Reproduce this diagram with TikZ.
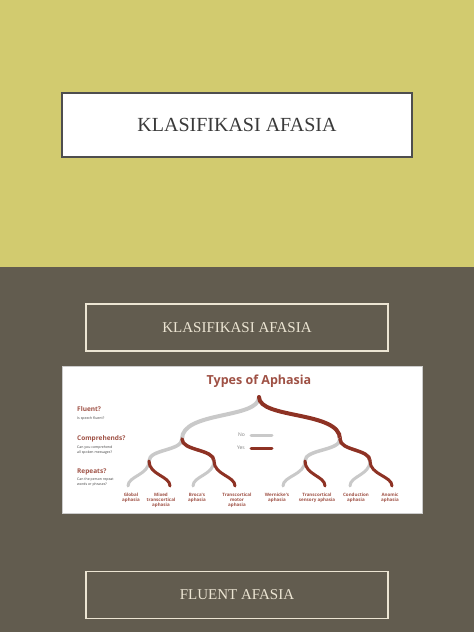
\documentclass[tikz,border=0pt]{standalone}
\usepackage{fontspec}
\setmainfont{Liberation Serif}
\newfontfamily\diagfont{Open Sans}
\usetikzlibrary{positioning}

\definecolor{zaitun}{HTML}{D2CB6F}
\definecolor{gelap}{HTML}{625C4F}
\definecolor{krem}{HTML}{ECE5D3}
\definecolor{merah}{HTML}{8E3224}
\definecolor{abu}{HTML}{C9C9C9}
\definecolor{teks}{HTML}{3A3A3A}

\begin{document}
\begin{tikzpicture}[x=1pt,y=-1pt,
    titlebox/.style={draw=teks!90,line width=2pt,fill=white,minimum width=350pt,minimum height=64pt,
        font=\fontsize{20}{22}\selectfont,text=teks},
    darkbox/.style={draw=krem,line width=1.5pt,minimum width=302pt,minimum height=47pt,
        font=\fontsize{15}{17}\selectfont,text=krem},
    tidakline/.style={draw=abu,line cap=round},
    yaline/.style={draw=merah,line cap=round},
    tanya/.style={anchor=west,text=merah!85,font=\diagfont\bfseries\fontsize{6.5}{7}\selectfont,inner sep=0pt},
    kecil/.style={anchor=west,text=teks,font=\diagfont\fontsize{3.5}{5}\selectfont,inner sep=0pt,align=left},
    jenis/.style={anchor=north,text=merah!85,font=\diagfont\bfseries\fontsize{4.5}{5}\selectfont,inner sep=0pt,align=center}]
    \useasboundingbox (0,0) rectangle (474,632);
    % backgrounds
    \fill[zaitun] (0,0) rectangle (474,267);
    \fill[gelap] (0,267) rectangle (474,632);
    \node[titlebox] (judul) at (237,125) {KLASIFIKASI AFASIA};
    \node[darkbox] (klasifikasi) at (237,327.5) {KLASIFIKASI AFASIA};
    \node[darkbox] (fluent) at (237,595) {FLUENT AFASIA};
    % the picture
    \node[fill=white,draw=gray!40,line width=.6pt,minimum width=360pt,minimum height=147pt,inner sep=0pt] (gambar) at (242,439.5) {};
    \node[text=merah!85,font=\diagfont\bfseries\fontsize{12.5}{13}\selectfont] (tipe) at (259,381) {Types of Aphasia};
    \node[tanya] (fluentq) at (77,409) {Fluent?};
    \node[kecil] (fluentk) at (77,419) {Is speech fluent?};
    \node[tanya] (pahamq) at (77,439) {Comprehends?};
    \node[kecil] (pahamk) at (77,450.5) {Can you comprehend\\all spoken messages?};
    \node[tanya] (ulangq) at (77,472) {Repeats?};
    \node[kecil] (ulangk) at (77,482.5) {Can the person repeat\\words or phrases?};
    % legend
    \node[kecil,text=gray,font=\diagfont\fontsize{5}{6}\selectfont,anchor=east] (no) at (245,435) {No};
    \node[kecil,text=gray,font=\diagfont\fontsize{5}{6}\selectfont,anchor=east] (yes) at (245,448) {Yes};
    \coordinate (no1) at (251,435);
    \coordinate (no2) at (272,435);
    \coordinate (yes1) at (251,448);
    \coordinate (yes2) at (272,448);
    \draw[tidakline,line width=3pt] (no1) -- (no2);
    \draw[yaline,line width=3pt] (yes1) -- (yes2);
    % tree
    \coordinate (akar) at (259,397);
    \coordinate (t) at (182,439);
    \coordinate (y) at (340,439);
    \coordinate (tt) at (149,461);
    \coordinate (ty) at (214,461);
    \coordinate (yt) at (305,461);
    \coordinate (yy) at (370,461);
    \coordinate (l1) at (128,486);
    \coordinate (l2) at (170,486);
    \coordinate (l3) at (193,486);
    \coordinate (l4) at (235,486);
    \coordinate (l5) at (283,486);
    \coordinate (l6) at (325,486);
    \coordinate (l7) at (350,486);
    \coordinate (l8) at (392,486);
    \draw[tidakline,line width=4pt] (akar) .. controls +(0,22) and +(0,-28) .. (t);
    \draw[yaline,line width=4pt] (akar) .. controls +(0,22) and +(0,-28) .. (y);
    \draw[tidakline,line width=3.5pt] (t) .. controls +(0,12) and +(0,-12) .. (tt);
    \draw[yaline,line width=3.5pt] (t) .. controls +(0,12) and +(0,-12) .. (ty);
    \draw[tidakline,line width=3.5pt] (y) .. controls +(0,12) and +(0,-12) .. (yt);
    \draw[yaline,line width=3.5pt] (y) .. controls +(0,12) and +(0,-12) .. (yy);
    \draw[tidakline,line width=3pt] (tt) .. controls +(0,14) and +(0,-10) .. (l1);
    \draw[yaline,line width=3pt] (tt) .. controls +(0,14) and +(0,-10) .. (l2);
    \draw[tidakline,line width=3pt] (ty) .. controls +(0,14) and +(0,-10) .. (l3);
    \draw[yaline,line width=3pt] (ty) .. controls +(0,14) and +(0,-10) .. (l4);
    \draw[tidakline,line width=3pt] (yt) .. controls +(0,14) and +(0,-10) .. (l5);
    \draw[yaline,line width=3pt] (yt) .. controls +(0,14) and +(0,-10) .. (l6);
    \draw[tidakline,line width=3pt] (yy) .. controls +(0,14) and +(0,-10) .. (l7);
    \draw[yaline,line width=3pt] (yy) .. controls +(0,14) and +(0,-10) .. (l8);
    % leaf labels
    \node[jenis] (global) at (131,493) {Global\\aphasia};
    \node[jenis] (mixed) at (161,493) {Mixed\\transcortical\\aphasia};
    \node[jenis] (broca) at (197,493) {Broca's\\aphasia};
    \node[jenis] (motor) at (237,493) {Transcortical\\motor\\aphasia};
    \node[jenis] (wernicke) at (277,493) {Wernicke's\\aphasia};
    \node[jenis] (sensory) at (317,493) {Transcortical\\sensory aphasia};
    \node[jenis] (conduction) at (356,493) {Conduction\\aphasia};
    \node[jenis] (anomic) at (390,493) {Anomic\\aphasia};
\end{tikzpicture}
\end{document}
